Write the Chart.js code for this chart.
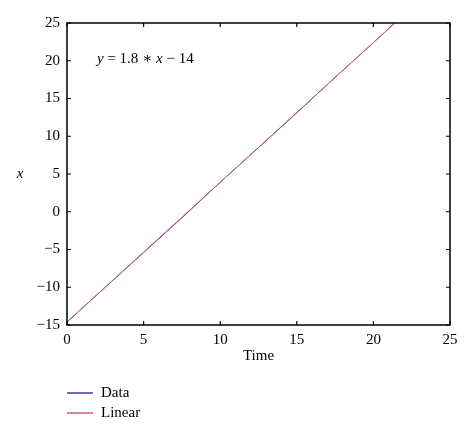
<!DOCTYPE html>
<html>
  <head>
    <title>Linear fit</title>
    <script src="https://cdn.jsdelivr.net/npm/chart.js"></script>
    <style>
      body { margin: 0; background: #fff; }
      #wrap { width: 474px; height: 434px; }
    </style>
  </head>
  <body>
    <div id="wrap"><canvas id="grafico"></canvas></div>

<script>
  // valores
  const tempoDados = [0, 2.5, 5, 7.5, 10, 12.5, 15, 17.5, 20, 21.4];
  const xDados = [-14.6, -10.0, -5.4, -0.8, 3.9, 8.5, 13.1, 17.8, 22.4, 25.0];
  const tempoLinear = [0, 21.4];
  const xLinear = [-14.6, 25.0];
  const ticksX = [0, 5, 10, 15, 20, 25];
  const ticksY = [-15, -10, -5, 0, 5, 10, 15, 20, 25];

  const serif = "'Liberation Serif', 'DejaVu Serif', serif";
  const corData = "#3a3aa8";
  const corLinear = "#cc6470";

  function pares(xs, ys) {
    return xs.map((v, i) => ({ x: v, y: ys[i] }));
  }

  // caixa, marcas internas, equação e legenda
  const extras = {
    id: "extras",
    afterDraw(chart) {
      const ctx = chart.ctx;
      const a = chart.chartArea;
      const sx = chart.scales.x;
      const sy = chart.scales.y;
      ctx.save();
      ctx.strokeStyle = "#000";
      ctx.lineWidth = 1.5;
      ctx.strokeRect(a.left, a.top, a.right - a.left, a.bottom - a.top);

      ctx.lineWidth = 1.2;
      ctx.beginPath();
      ticksX.forEach(t => {
        const px = sx.getPixelForValue(t);
        ctx.moveTo(px, a.bottom); ctx.lineTo(px, a.bottom - 4);
        ctx.moveTo(px, a.top); ctx.lineTo(px, a.top + 4);
      });
      ticksY.forEach(t => {
        const py = sy.getPixelForValue(t);
        ctx.moveTo(a.left, py); ctx.lineTo(a.left + 4, py);
        ctx.moveTo(a.right, py); ctx.lineTo(a.right - 4, py);
      });
      ctx.stroke();

      // titulo do eixo y
      ctx.fillStyle = "#000";
      ctx.textBaseline = "middle";
      ctx.textAlign = "center";
      ctx.font = "italic 15px " + serif;
      ctx.fillText("x", 20, (a.top + a.bottom) / 2);

      // equação
      const partes = [
        ["y", true], [" = 1.8 ", false], ["\u2217", false], [" ", false],
        ["x", true], [" \u2212 14", false]
      ];
      let px = 97;
      const py = 59;
      ctx.textAlign = "left";
      partes.forEach(p => {
        ctx.font = (p[1] ? "italic " : "") + "15px " + serif;
        ctx.fillText(p[0], px, py);
        px += ctx.measureText(p[0]).width;
      });

      // legenda
      const itens = chart.data.datasets;
      itens.forEach((d, i) => {
        const ly = 393 + i * 20;
        ctx.strokeStyle = d.borderColor;
        ctx.lineWidth = 1.5;
        ctx.beginPath();
        ctx.moveTo(67, ly); ctx.lineTo(93, ly);
        ctx.stroke();
        ctx.fillStyle = "#000";
        ctx.font = "15px " + serif;
        ctx.fillText(d.label, 101, ly);
      });
      ctx.restore();
    }
  };

  const config = {
    type: "scatter",
    data: {
      datasets: [
        {
          label: "Data",
          data: pares(tempoDados, xDados),
          showLine: true,
          borderColor: corData,
          backgroundColor: corData,
          borderWidth: 1,
          pointRadius: 0,
          order: 2
        },
        {
          label: "Linear",
          data: pares(tempoLinear, xLinear),
          showLine: true,
          borderColor: corLinear,
          backgroundColor: corLinear,
          borderWidth: 1,
          pointRadius: 0,
          order: 1
        }
      ]
    },
    options: {
      responsive: false,
      animation: false,
      layout: { padding: { left: 0, right: 24, top: 23, bottom: 65 } },
      plugins: { legend: { display: false }, tooltip: { enabled: false } },
      scales: {
        x: {
          type: "linear",
          min: 0,
          max: 25,
          afterBuildTicks: s => { s.ticks = ticksX.map(v => ({ value: v })); },
          afterFit: s => { s.height = 44; },
          grid: { display: false, drawTicks: false },
          border: { display: false },
          ticks: {
            color: "#000",
            padding: 6,
            font: { family: serif, size: 15 },
            callback: v => String(v).replace("-", "\u2212")
          },
          title: {
            display: true,
            text: "Time",
            color: "#000",
            padding: { top: 0, bottom: 4 },
            font: { family: serif, size: 15 }
          }
        },
        y: {
          type: "linear",
          min: -15,
          max: 25,
          afterBuildTicks: s => { s.ticks = ticksY.map(v => ({ value: v })); },
          afterFit: s => { s.width = 67; },
          grid: { display: false, drawTicks: false },
          border: { display: false },
          ticks: {
            color: "#000",
            padding: 7,
            font: { family: serif, size: 15 },
            callback: v => String(v).replace("-", "\u2212")
          }
        }
      }
    },
    plugins: [extras]
  };

  const canvas = document.getElementById("grafico");
  canvas.width = 474;
  canvas.height = 434;
  let meuGrafico = new Chart(canvas, config);
</script>
  </body>
</html>
